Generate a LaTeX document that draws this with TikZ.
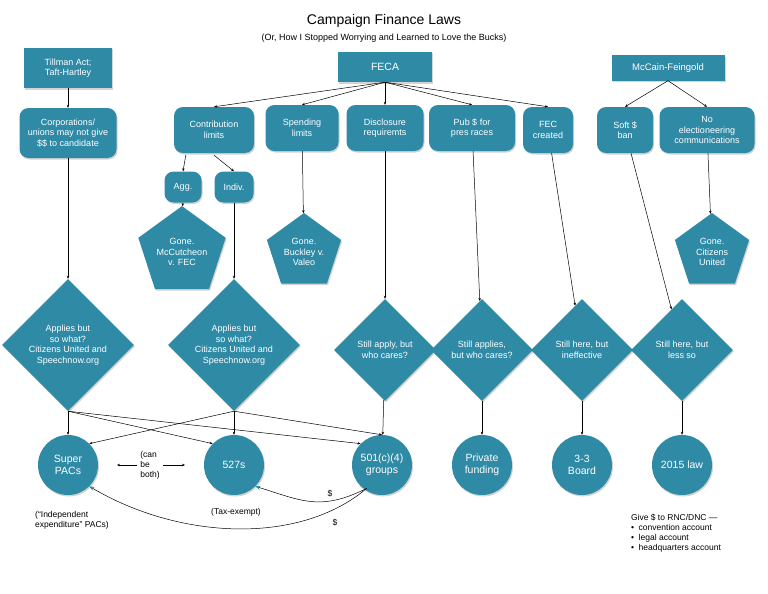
\documentclass[tikz,border=0pt]{standalone}
\usepackage{fontspec}
\setmainfont{Liberation Sans}
\usetikzlibrary{shapes.geometric,arrows.meta,shadows}
\definecolor{teal1}{HTML}{2F8AA6}
\begin{document}
\begin{tikzpicture}[x=1pt,y=-1pt,
  base/.style={fill=teal1,text=white,font=\fontsize{9}{10.5}\selectfont,align=center,inner sep=1pt,drop shadow={opacity=0.35,shadow xshift=1pt,shadow yshift=-1.5pt}},
  sq/.style={base,rectangle},
  rbox/.style={base,rectangle,rounded corners=9pt},
  pent/.style={base,regular polygon,regular polygon sides=5,minimum size=78pt},
  dia/.style={base,diamond,aspect=1},
  circ/.style={base,circle,minimum size=60pt,font=\fontsize{10.5}{12.5}\selectfont},
  arr/.style={-{Stealth[length=3pt,width=2.5pt]},black,line width=0.5pt},
  tarr/.style={-{Stealth[length=5pt,width=4pt,fill=teal1,color=teal1]},black,line width=0.5pt},
  note/.style={font=\fontsize{8.5}{10}\selectfont,align=left}]
\useasboundingbox (0,0) rectangle (768,594);
\node[font=\fontsize{14}{16}\selectfont] (title) at (384,21) {Campaign Finance Laws};
\node[font=\fontsize{9}{10.5}\selectfont] (sub) at (384,38) {(Or, How I Stopped Worrying and Learned to Love the Bucks)};
\node[sq,minimum width=88pt,minimum height=40pt] (till) at (68,68) {Tillman Act;\\Taft-Hartley};
\node[sq,minimum width=94pt,minimum height=30pt,font=\fontsize{10.5}{12}\selectfont] (feca) at (385,67) {FECA};
\node[sq,minimum width=113pt,minimum height=25pt,font=\fontsize{9.5}{11}\selectfont] (mf) at (668,68) {McCain-Feingold};
\node[rbox,minimum width=97pt,minimum height=50pt] (corp) at (68,133) {Corporations/\\unions may not give\\\$\$ to candidate};
\node[rbox,minimum width=80pt,minimum height=46pt] (contr) at (214,130) {Contribution\\limits};
\node[rbox,minimum width=73pt,minimum height=46pt] (spend) at (302,128) {Spending\\limits};
\node[rbox,minimum width=77pt,minimum height=46pt] (disc) at (385,128) {Disclosure\\requiremts};
\node[rbox,minimum width=86pt,minimum height=46pt] (pub) at (472,128) {Pub \$ for\\pres races};
\node[rbox,minimum width=50pt,minimum height=46pt] (fec) at (548,130) {FEC\\created};
\node[rbox,minimum width=56pt,minimum height=46pt] (soft) at (625,130) {Soft \$\\ban};
\node[rbox,minimum width=95pt,minimum height=46pt] (noel) at (707,130) {No\\electioneering\\communications};
\node[rbox,minimum width=37pt,minimum height=31pt] (agg) at (183,187) {Agg.};
\node[rbox,minimum width=39pt,minimum height=31pt] (ind) at (234,187) {Indiv.};
\node[pent] (g1) at (182,252) {Gone.\\McCutcheon\\v. FEC};
\node[pent] (g2) at (304,252) {Gone.\\Buckley v.\\Valeo};
\node[pent] (g3) at (712,252) {Gone.\\Citizens\\United};
\node[dia,minimum size=132pt] (d1) at (68,345) {Applies but\\so what?\\Citizens United and\\Speechnow.org};
\node[dia,minimum size=132pt] (d2) at (234,345) {Applies but\\so what?\\Citizens United and\\Speechnow.org};
\node[dia,minimum size=102pt] (d3) at (385,350) {Still apply, but\\who cares?};
\node[dia,minimum size=102pt] (d4) at (482,350) {Still applies,\\but who cares?};
\node[dia,minimum size=102pt] (d5) at (582,350) {Still here, but\\ineffective};
\node[dia,minimum size=102pt] (d6) at (682,350) {Still here, but\\less so};
\node[circ] (sp) at (68,465) {Super\\PACs};
\node[circ] (c527) at (234,465) {527s};
\node[circ] (c501) at (382,465) {501(c)(4)\\groups};
\node[circ] (priv) at (482,465) {Private\\funding};
\node[circ] (b33) at (582,465) {3-3\\Board};
\node[circ] (law) at (682,465) {2015 law};
\node[note] (both) at (150,465) {(can\\be\\both)};
\coordinate (bl) at (117,465); \coordinate (br) at (185,465);
\node[note] (iep) at (72,520) {(``Independent\\expenditure'' PACs)};
\node[note] (te) at (236,512) {(Tax-exempt)};
\node[note] (d1l) at (330,494) {\$};
\node[note] (d2l) at (335,523) {\$};
\node[note] (rnc) at (676,533) {Give \$ to RNC/DNC ---\\\textbullet\ \ convention account\\\textbullet\ \ legal account\\\textbullet\ \ headquarters account};
% connectors
\draw[arr] (till) -- (corp);
\foreach \t in {contr,spend,disc,pub,fec} \draw[arr] (feca.south) -- (\t.north);
\draw[arr] (mf.south) -- (soft.north);
\draw[arr] (mf.south) -- (noel.north);
\draw[arr] (corp) -- (d1);
\draw[arr] (contr.south west)++(12,2) -- (agg.north);
\draw[arr] (contr.south)++(0,2) -- (ind.north);
\draw[arr] (agg) -- (g1);
\draw[arr] (ind) -- (d2);
\draw[arr] (spend) -- (g2);
\draw[arr] (disc) -- (d3);
\draw[arr] (pub) -- (d4);
\draw[arr] (fec) -- (d5);
\draw[arr] (soft) -- (d6);
\draw[arr] (noel) -- (g3);
\draw[arr] (d1.south) -- (sp.north);
\draw[arr] (d1.south) -- (c527.north west);
\draw[arr] (d1.south) -- (c501.north west);
\draw[arr] (d2.south) -- (sp.north east);
\draw[arr] (d2.south) -- (c527.north);
\draw[arr] (d2.south) -- (c501.north);
\draw[arr] (d3) -- (c501);
\draw[arr] (d4) -- (priv);
\draw[arr] (d5) -- (b33);
\draw[arr] (d6) -- (law);
\draw[arr] (both.west) -- (bl);
\draw[arr] (both.east) -- (br);
\draw[tarr] (c501.south west)++(6,2) .. controls (320,512) and (300,500) .. (c527.south east);
\draw[tarr] (c501.south west)++(6,2) .. controls (300,545) and (180,540) .. (sp.south east);
\end{tikzpicture}
\end{document}
